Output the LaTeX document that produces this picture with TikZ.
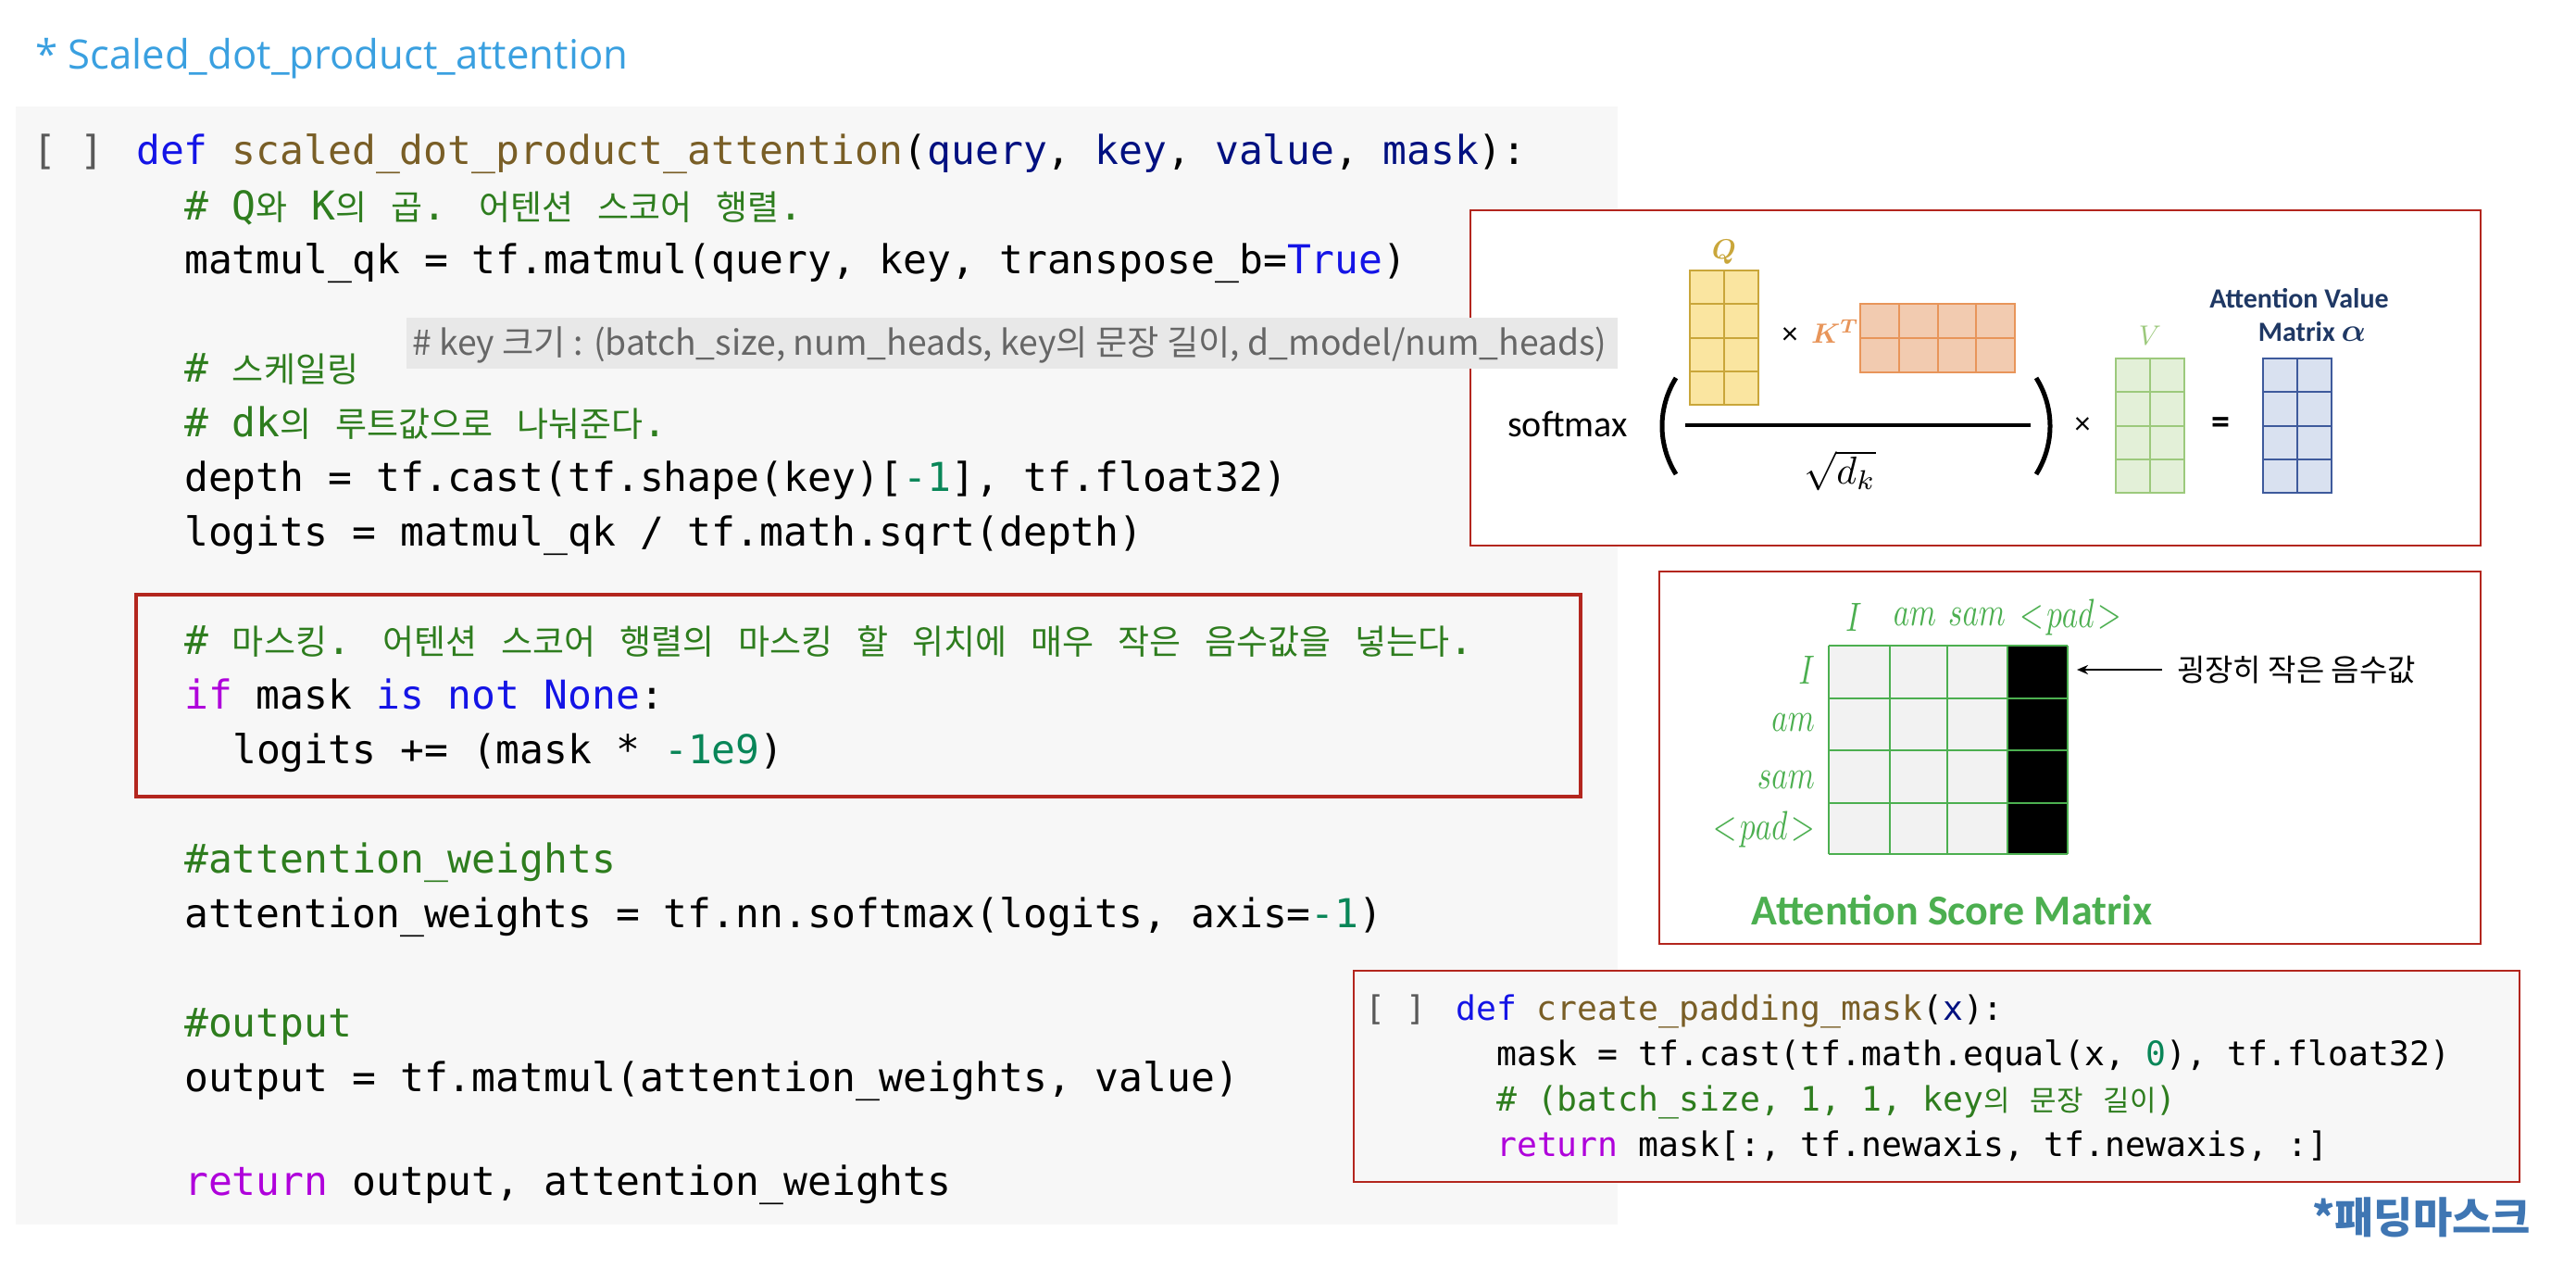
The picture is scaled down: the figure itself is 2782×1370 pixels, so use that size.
\documentclass[tikz,border=0pt]{standalone}
\usepackage{amsmath}
\usepackage{fontspec}
\usepackage{graphicx}
\usetikzlibrary{arrows.meta}
\newfontfamily\codefont{DejaVu Sans Mono}
\newfontfamily\krfont{Noto Sans CJK KR}
\newfontfamily\cali{Carlito}
\newfontfamily\osans{Open Sans}
\definecolor{kwblue}{HTML}{1414E6}
\definecolor{fnbrown}{HTML}{795E26}
\definecolor{prm}{HTML}{001080}
\definecolor{cmt}{HTML}{2E7D1E}
\definecolor{num}{HTML}{098658}
\definecolor{purp}{HTML}{AF00DB}
\definecolor{codebg}{HTML}{F7F7F7}
\definecolor{redb}{HTML}{B3261E}
\definecolor{titleblue}{HTML}{3AA0E0}
\definecolor{qfill}{HTML}{FAE5A0}\definecolor{qline}{HTML}{C9A63A}
\definecolor{kfill}{HTML}{F2CBB0}\definecolor{kline}{HTML}{E8955A}
\definecolor{vfill}{HTML}{E3F0D8}\definecolor{vline}{HTML}{9CC97C}
\definecolor{afill}{HTML}{D9E1F0}\definecolor{aline}{HTML}{3E5A9C}
\definecolor{navy}{HTML}{1F3864}
\definecolor{sgreen}{HTML}{4CAF50}
\definecolor{maskblue}{HTML}{3F76B3}
\newcommand\Kr[2]{{\krfont\fontsize{#1}{#1}\selectfont #2}}
\newcommand\K[1]{\Kr{37}{#1}}
\newcommand\Ks[1]{\Kr{31}{#1}}
\newcommand\kw[1]{\textcolor{kwblue}{#1}}
\newcommand\fn[1]{\textcolor{fnbrown}{#1}}
\newcommand\pr[1]{\textcolor{prm}{#1}}
\newcommand\nm[1]{\textcolor{num}{#1}}
\newcommand\pu[1]{\textcolor{purp}{#1}}
\newcommand\M[2]{\scalebox{#1}{$#2$}}
\newcommand\SL[1]{\scalebox{3.3}[4.4]{$#1$}}
% matrix: fill, line, x0,y0,x1,y1, cols, rows
\newcommand\mat[8]{%
  \fill[#1] (#3,#4) rectangle (#5,#6);
  \pgfmathsetmacro\dxx{(#5-#3)/#7}\pgfmathsetmacro\dyy{(#6-#4)/#8}
  \foreach \i in {1,...,#7} {\pgfmathsetmacro\xx{#3+\i*\dxx}\draw[#2,line width=2pt] (\xx,#4) -- (\xx,#6);}
  \foreach \j in {1,...,#8} {\pgfmathsetmacro\yy{#4+\j*\dyy}\draw[#2,line width=2pt] (#3,\yy) -- (#5,\yy);}
  \draw[#2,line width=2pt] (#3,#4) rectangle (#5,#6);}
\begin{document}
\begin{tikzpicture}[x=1pt,y=-1pt,
  code/.style={anchor=base west,inner sep=0pt,font=\codefont\fontsize{43}{43}\selectfont},
  codes/.style={anchor=base west,inner sep=0pt,font=\codefont\fontsize{36.4}{36.4}\selectfont},
  cmtc/.style={text=cmt},
  lbl/.style={inner sep=0pt}]
\useasboundingbox (0,0) rectangle (2782,1370);
% title
\node[lbl,anchor=base west,text=titleblue,font=\osans\fontsize{40}{40}\selectfont] (title) at (38,75) {\resizebox{640pt}{!}{* Scaled\_dot\_product\_attention}};
% main code box
\fill[codebg] (17,115) rectangle (1747,1322);
\node[code,text=black!65] (br) at (35,177) {[ ]};
\node[code] (l1) at (147,177) {\kw{def} \fn{scaled\_dot\_product\_attention}(\pr{query}, \pr{key}, \pr{value}, \pr{mask}):};
\node[code,cmtc] (l2) at (199,237) {\# Q\K{와} K\K{의} \K{곱}. \K{어텐션} \K{스코어} \K{행렬}.};
\node[code] (l3) at (199,295) {matmul\_qk = tf.matmul(query, key, transpose\_b=\kw{True})};
\node[code,cmtc] (l4) at (199,412) {\# \K{스케일링}};
\node[code,cmtc] (l5) at (199,471) {\# dk\K{의} \K{루트값으로} \K{나눠준다}.};
\node[code] (l6) at (199,530) {depth = tf.cast(tf.shape(key)[\nm{-1}], tf.float32)};
\node[code] (l7) at (199,589) {logits = matmul\_qk / tf.math.sqrt(depth)};
\draw[redb,line width=4pt] (147,642) rectangle (1707,860);
\node[code,cmtc] (l8) at (199,706) {\# \K{마스킹}. \K{어텐션} \K{스코어} \K{행렬의} \K{마스킹} \K{할} \K{위치에} \K{매우} \K{작은} \K{음수값을} \K{넣는다}.};
\node[code] (l9) at (199,765) {\pu{if} mask \kw{is} \kw{not} \kw{None}:};
\node[code] (l10) at (251,824) {logits += (mask * \nm{-1e9})};
\node[code,cmtc] (l11) at (199,942) {\#attention\_weights};
\node[code] (l12) at (199,1001) {attention\_weights = tf.nn.softmax(logits, axis=\nm{-1})};
\node[code,cmtc] (l13) at (199,1119) {\#output};
\node[code] (l14) at (199,1178) {output = tf.matmul(attention\_weights, value)};
\node[code] (l15) at (199,1290) {\pu{return} output, attention\_weights};
% formula box
\draw[redb,line width=2.5pt,fill=white] (1588,227) rectangle (2679,589);
\node[lbl,font=\cali\fontsize{40}{40}\selectfont] (sm) at (1693,458) {softmax};
\draw[line width=5pt] (1810,408) .. controls (1790,440) and (1790,480) .. (1810,512);
\draw[line width=5pt] (2199,408) .. controls (2219,440) and (2219,480) .. (2199,512);
\draw[line width=3.5pt] (1820,459) -- (2193,459);
\mat{qfill}{qline}{1825}{292}{1899}{437}{2}{4}
\node[lbl,text=qline] (ql) at (1862,272) {\M{3}{\boldsymbol{Q}}};
\node[lbl,font=\cali\fontsize{34}{34}\selectfont] (x1) at (1933,363) {×};
\node[lbl,text=kline] (kl) at (1982,358) {\M{3}{\boldsymbol{K^T}}};
\mat{kfill}{kline}{2009}{328}{2176}{402}{4}{2}
\node[lbl] (dk) at (1987,508) {\M{4.2}{\sqrt{d_k}}};
\node[lbl,font=\cali\fontsize{34}{34}\selectfont] (x2) at (2249,460) {×};
\mat{vfill}{vline}{2285}{387}{2359}{532}{2}{4}
\node[lbl,text=vline] (vl) at (2322,362) {\M{3}{V}};
\node[lbl,font=\cali\fontsize{40}{40}\selectfont\bfseries] (eq) at (2398,460) {=};
\mat{afill}{aline}{2444}{387}{2518}{532}{2}{4}
\node[lbl,text=navy,font=\cali\bfseries\fontsize{30}{30}\selectfont] (av1) at (2483,322) {Attention Value};
\node[lbl,text=navy,font=\cali\bfseries\fontsize{30}{30}\selectfont] (av2) at (2497,358) {Matrix \M{1.4}{\boldsymbol{\alpha}}};
% tooltip (on top)
\fill[black!9] (439,343) rectangle (1747,398);
\node[lbl,anchor=base west,text=black!60,font=\krfont\fontsize{30}{30}\selectfont] (tip) at (445,383) {\resizebox{1290pt}{!}{\# key 크기 : (batch\_size, num\_heads, key의 문장 길이, d\_model/num\_heads)}};
% score box
\draw[redb,line width=2.5pt,fill=white] (1792,617) rectangle (2679,1019);
\fill[black!5] (1975,697) rectangle (2168,922);
\fill[black] (2168,697) rectangle (2233,922);
\foreach \x in {1975,2041,2103,2168,2233} \draw[sgreen,line width=2pt] (\x,697) -- (\x,922);
\foreach \y in {697,754,810,867,922} \draw[sgreen,line width=2pt] (1975,\y) -- (2233,\y);
\coordinate (cellI) at (2243,723);
\begin{scope}[every node/.style={lbl,text=sgreen}]
\node (cI) at (2002,666) {\SL{I}};
\node (cam) at (2068,666) {\SL{am}};
\node (csam) at (2135,666) {\SL{sam}};
\node (cpad) at (2236,666) {\SL{<\!pad\!>}};
\node[anchor=east] (rI) at (1960,723) {\SL{I}};
\node[anchor=east] (ram) at (1960,780) {\SL{am}};
\node[anchor=east] (rsam) at (1960,842) {\SL{sam}};
\node[anchor=east] (rpad) at (1960,895) {\SL{<\!pad\!>}};
\end{scope}
\node[lbl,anchor=west,font=\krfont\fontsize{33}{33}\selectfont] (neg) at (2351,723) {굉장히 작은 음수값};
\draw[-{Stealth[length=12pt,width=10pt]},line width=2.5pt] (neg.west) ++(-16,0) -- (cellI);
\node[lbl,text=sgreen,font=\cali\bfseries\fontsize{46}{46}\selectfont] (asm) at (2108,982) {Attention Score Matrix};
% padding mask box
\draw[redb,line width=2.5pt,fill=codebg] (1462,1048) rectangle (2721,1276);
\node[codes,text=black!65] (pbr) at (1474,1101) {[ ]};
\node[codes] (p1) at (1572,1101) {\kw{def} \fn{create\_padding\_mask}(\pr{x}):};
\node[codes] (p2) at (1616,1150) {mask = tf.cast(tf.math.equal(x, \nm{0}), tf.float32)};
\node[codes,cmtc] (p3) at (1616,1199) {\# (batch\_size, 1, 1, key\Ks{의} \Ks{문장} \Ks{길이})};
\node[codes] (p4) at (1616,1248) {\pu{return} mask[:, tf.newaxis, tf.newaxis, :]};
\node[lbl,text=maskblue,font=\krfont\bfseries\fontsize{46}{46}\selectfont] (pm) at (2615,1314) {*패딩마스크};
\end{tikzpicture}
\end{document}
